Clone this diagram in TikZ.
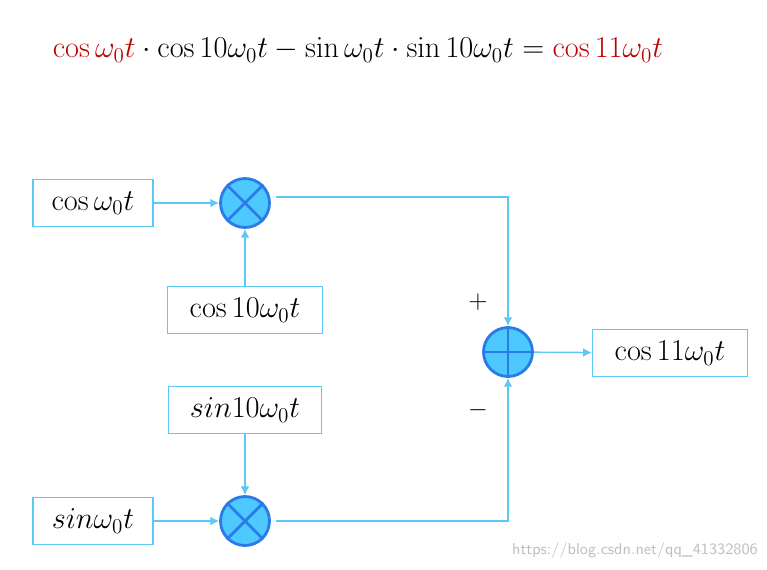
\documentclass[tikz,border=0pt]{standalone}
\usepackage{tikz}
\usetikzlibrary{positioning,arrows.meta}
\definecolor{linecol}{HTML}{5BC8F5}
\definecolor{ringcol}{HTML}{2A7BE8}
\definecolor{fillcol}{HTML}{4DC9FF}
\definecolor{redtext}{HTML}{C00000}
\tikzset{
  sigbox/.style={draw=linecol,thick,minimum height=0.95cm,inner xsep=4pt,font=\fontsize{17.5}{21}\selectfont},
  mixer/.style={circle,draw=ringcol,line width=1.6pt,fill=fillcol,minimum size=0.98cm,inner sep=0pt},
  sigline/.style={draw=linecol,thick,-{Latex[length=5pt,width=5pt]}}
}
\begin{document}
\begin{tikzpicture}[x=0.02cm,y=-0.02cm]
  \useasboundingbox (0,0) rectangle (767,569);
  % equation on top
  \node[font=\fontsize{18}{22}\selectfont] (eq) at (358,50) {$\color{redtext}\cos\omega_0 t\color{black}\cdot\cos10\omega_0 t-\sin\omega_0 t\cdot\sin10\omega_0 t=\color{redtext}\cos11\omega_0 t$};

  \node[sigbox,minimum width=2.4cm] (cosw) at (93,203) {$\cos\omega_0 t$};
  \node[sigbox,minimum width=3.1cm] (cos10) at (245,310) {$\cos10\omega_0 t$};
  \node[sigbox,minimum width=3.05cm] (sin10) at (245,410) {$sin10\omega_0 t$};
  \node[sigbox,minimum width=2.4cm] (sinw) at (93,521) {$sin\omega_0 t$};
  \node[sigbox,minimum width=3.1cm] (cos11) at (670,353) {$\cos11\omega_0 t$};

  \node[mixer] (m1) at (245,203) {};
  \node[mixer] (m2) at (245,521) {};
  \node[mixer] (sum) at (508,352) {};
  \draw[ringcol,line width=1.6pt] (m1.north west) -- (m1.south east) (m1.north east) -- (m1.south west);
  \draw[ringcol,line width=1.6pt] (m2.north west) -- (m2.south east) (m2.north east) -- (m2.south west);
  \draw[ringcol,line width=1.6pt] (sum.north) -- (sum.south) (sum.west) -- (sum.east);

  \draw[sigline] (cosw) -- (m1);
  \draw[sigline] (cos10) -- (m1);
  \draw[sigline] (sin10) -- (m2);
  \draw[sigline] (sinw) -- (m2);
  \draw[sigline] (m1.east) ++(5,-6) -| (sum.north);
  \draw[sigline] (m2.east) ++(5,0) -| (sum.south);
  \draw[sigline] (sum) -- (cos11);

  \node[font=\Large] (plus) at (478,302) {$+$};
  \node[font=\Large] (minus) at (478,410) {$-$};
  \node[text=gray!50,font=\small\sffamily] (mark) at (635,551) {https://blog.csdn.net/qq\_41332806};
\end{tikzpicture}
\end{document}
